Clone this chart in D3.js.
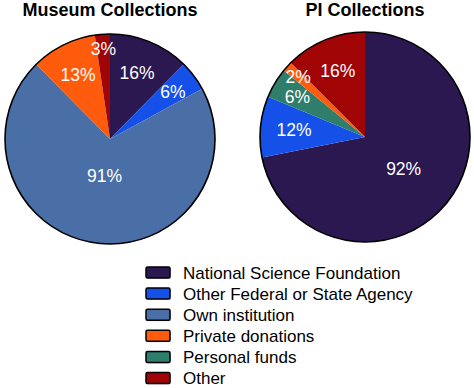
<!DOCTYPE html>
<html>
<head>
<meta charset="utf-8">
<script src="https://cdn.jsdelivr.net/npm/d3@7"></script>
<style>
  body { margin: 0; background: #fff; }
  text { font-family: "Liberation Sans", Arial, sans-serif; }
</style>
</head>
<body>
<div class="chart"></div>
<script>
// data
var categories = ["National Science Foundation", "Other Federal or State Agency",
  "Own institution", "Private donations", "Personal funds", "Other"];
var colors = ["#2c1850", "#1551e8", "#4a6ea6", "#ff5b0c", "#2e7e6b", "#a10404"];

var museumKeys = ["National Science Foundation", "Other Federal or State Agency",
  "Own institution", "Private donations", "Other"];
var museumValues = [16, 6, 91, 13, 3];

var piKeys = ["National Science Foundation", "Other Federal or State Agency",
  "Personal funds", "Private donations", "Other"];
var piValues = [92, 12, 6, 2, 16];

var svgWidth = 474;
var svgHeight = 388;

var svg = d3.select(".chart")
  .append("svg")
  .attr("width", svgWidth)
  .attr("height", svgHeight);

var color = d3.scaleOrdinal().domain(categories).range(colors);

var radius = 105;

function drawPie(title, keys, values, cx, cy, bigLabelR) {
  var data = keys.map((k, i) => ({ key: k, value: values[i] }));
  var total = d3.sum(values);

  var pie = d3.pie().sort(null).value(d => d.value);
  var arc = d3.arc().innerRadius(0).outerRadius(radius);

  var g = svg.append("g")
    .attr("transform", `translate(${cx}, ${cy})`);

  g.selectAll("path.slice")
    .data(pie(data))
    .enter()
    .append("path")
    .attr("class", "slice")
    .attr("d", arc)
    .attr("fill", d => color(d.data.key));

  g.append("circle")
    .attr("r", radius)
    .attr("fill", "none")
    .attr("stroke", "#000")
    .attr("stroke-width", 1.6);

  // small slices get their labels pushed out toward the rim
  g.selectAll("text.lbl")
    .data(pie(data))
    .enter()
    .append("text")
    .attr("class", "lbl")
    .attr("transform", function(d) {
      var frac = d.data.value / total;
      var r;
      if (frac > 0.5) r = bigLabelR;
      else if (frac < 0.03) r = radius * 0.86;
      else if (frac < 0.06) r = radius * 0.75;
      else r = radius * 0.68;
      var a = (d.startAngle + d.endAngle) / 2;
      return `translate(${Math.sin(a) * r}, ${-Math.cos(a) * r})`;
    })
    .attr("text-anchor", "middle")
    .attr("dy", "0.36em")
    .attr("fill", "#fff")
    .style("font-size", "17.5px")
    .text(d => d.data.value + "%");

  svg.append("text")
    .attr("x", cx)
    .attr("y", 16)
    .attr("text-anchor", "middle")
    .style("font-size", "18px")
    .style("font-weight", "bold")
    .text(title);
}

drawPie("Museum Collections", museumKeys, museumValues, 110, 139, 37);
drawPie("PI Collections", piKeys, piValues, 365, 137, 50);

// legend
var legend = svg.append("g")
  .attr("transform", "translate(146, 273)");

var rows = legend.selectAll("g.row")
  .data(categories)
  .enter()
  .append("g")
  .attr("class", "row")
  .attr("transform", (d, i) => `translate(0, ${i * 21.1})`);

rows.append("rect")
  .attr("x", 1)
  .attr("y", -5)
  .attr("width", 24)
  .attr("height", 11)
  .attr("rx", 1.5)
  .attr("fill", "#aaa")
  .attr("opacity", 0.5);

rows.append("rect")
  .attr("x", 0)
  .attr("y", -6)
  .attr("width", 24)
  .attr("height", 11)
  .attr("rx", 1.5)
  .attr("fill", d => color(d))
  .attr("stroke", "#000")
  .attr("stroke-width", 1.5);

rows.append("text")
  .attr("x", 37)
  .attr("y", 0)
  .attr("dy", "0.35em")
  .style("font-size", "17px")
  .text(d => d);
</script>
</body>
</html>
